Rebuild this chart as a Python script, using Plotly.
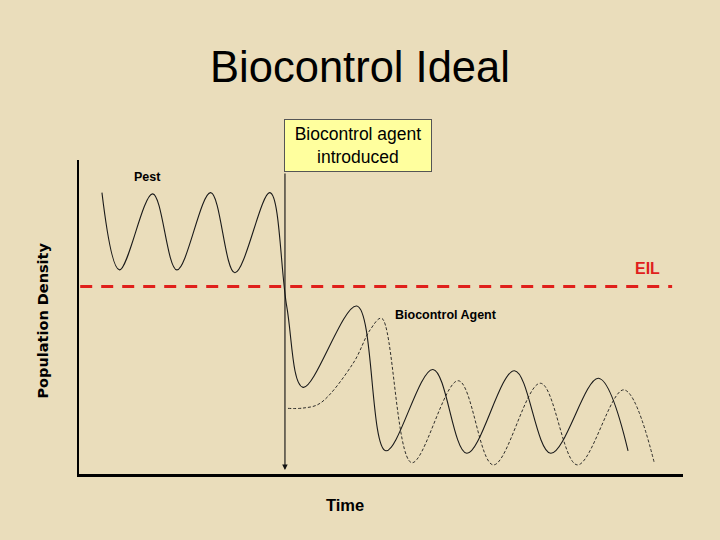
import plotly.graph_objects as go

# ---- data (time units 0-100, population density 0-100) ----
pest_time = [3.8, 6.7, 12.2, 16.2, 21.8, 25.8, 31.6, 34.4, 37.1, 46.0, 50.8, 58.6, 64.2, 72.1, 78.1, 86.0, 90.9]
pest_density = [89.6, 65.0, 89.2, 65.0, 89.6, 64.1, 89.6, 53.3, 27.6, 53.5, 7.4, 33.3, 6.6, 32.9, 6.6, 30.5, 7.4]

agent_time = [34.6, 37.1, 39.9, 45.4, 48.2, 50.1, 55.1, 62.8, 68.6, 76.4, 82.5, 90.2, 95.2]
agent_density = [20.9, 21.0, 22.5, 35.3, 45.9, 49.6, 3.6, 29.7, 2.9, 28.9, 2.9, 26.8, 3.9]

eil_level = 59.7
introduction_time = 34.1

title_text = "Biocontrol Ideal"
x_label = "Time"
y_label = "Population Density"

BG = "#EADDBB"
FONT = "Liberation Sans, Arial, sans-serif"

fig = go.Figure()

fig.add_trace(go.Scatter(
    x=pest_time, y=pest_density, mode="lines",
    line=dict(color="#1a1a1a", width=1.1, shape="spline", smoothing=1.0),
    hoverinfo="skip", showlegend=False))

fig.add_trace(go.Scatter(
    x=agent_time, y=agent_density, mode="lines",
    line=dict(color="#1a1a1a", width=0.9, shape="spline", smoothing=1.0, dash="3px,2px"),
    hoverinfo="skip", showlegend=False))

# EIL line
fig.add_shape(type="line", xref="paper", yref="y", x0=0.002, x1=0.982,
              y0=eil_level, y1=eil_level,
              line=dict(color="#E0201B", width=3, dash="12px,9px"))

annotations = [
    dict(x=introduction_time, y=1.3, ax=introduction_time, ay=96.2, axref="x", ayref="y",
         xref="x", yref="y", text="", showarrow=True, arrowhead=2, arrowsize=1,
         arrowwidth=1.1, arrowcolor="#111111"),
    dict(x=0.462, y=1.046, xref="paper", yref="paper", xanchor="center", yanchor="middle",
         showarrow=False, text="Biocontrol agent<br>introduced",
         font=dict(family=FONT, size=17.5, color="black"),
         bgcolor="#FFFF9E", bordercolor="#555555", borderwidth=1, borderpad=1,
         width=144, height=49, align="center"),
    dict(x=11.3, y=94.6, xref="x", yref="y", showarrow=False, text="<b>Pest</b>",
         xanchor="center", yanchor="middle",
         font=dict(family=FONT, size=12.5, color="black")),
    dict(x=52.0, y=50.6, xref="x", yref="y", showarrow=False, xanchor="left", yanchor="middle",
         text="<b>Biocontrol Agent</b>", font=dict(family=FONT, size=12.5, color="black")),
    dict(x=94.2, y=65.6, xref="x", yref="y", showarrow=False, text="<b>EIL</b>",
         xanchor="center", yanchor="middle",
         font=dict(family=FONT, size=16, color="#E0201B")),
    dict(x=0.441, y=-0.099, xref="paper", yref="paper", showarrow=False,
         xanchor="center", yanchor="middle",
         text="<b>" + x_label + "</b>", font=dict(family=FONT, size=16.5, color="black")),
    dict(x=-0.059, y=0.49, xref="paper", yref="paper", showarrow=False, textangle=-90,
         xanchor="center", yanchor="middle",
         text="<b>" + y_label + "</b>",
         font=dict(family="DejaVu Sans, sans-serif", size=14.5, color="black")),
]

fig.update_layout(
    width=720, height=540,
    paper_bgcolor=BG, plot_bgcolor=BG,
    margin=dict(l=79, r=37, t=160, b=66),
    title=dict(text=title_text, x=0.5, xanchor="center", y=0.876, yanchor="middle",
               font=dict(family=FONT, size=43.5, color="black")),
    xaxis=dict(range=[0, 100], showgrid=False, zeroline=False, showticklabels=False,
               ticks="", showline=True, linecolor="black", linewidth=3),
    yaxis=dict(range=[0, 100], showgrid=False, zeroline=False, showticklabels=False,
               ticks="", showline=True, linecolor="black", linewidth=2),
    annotations=annotations,
    showlegend=False,
)

fig.write_html(
    "out.html",
    config={"displayModeBar": False},
    post_script="document.body.style.margin='0';document.body.style.background='" + BG + "';",
)
